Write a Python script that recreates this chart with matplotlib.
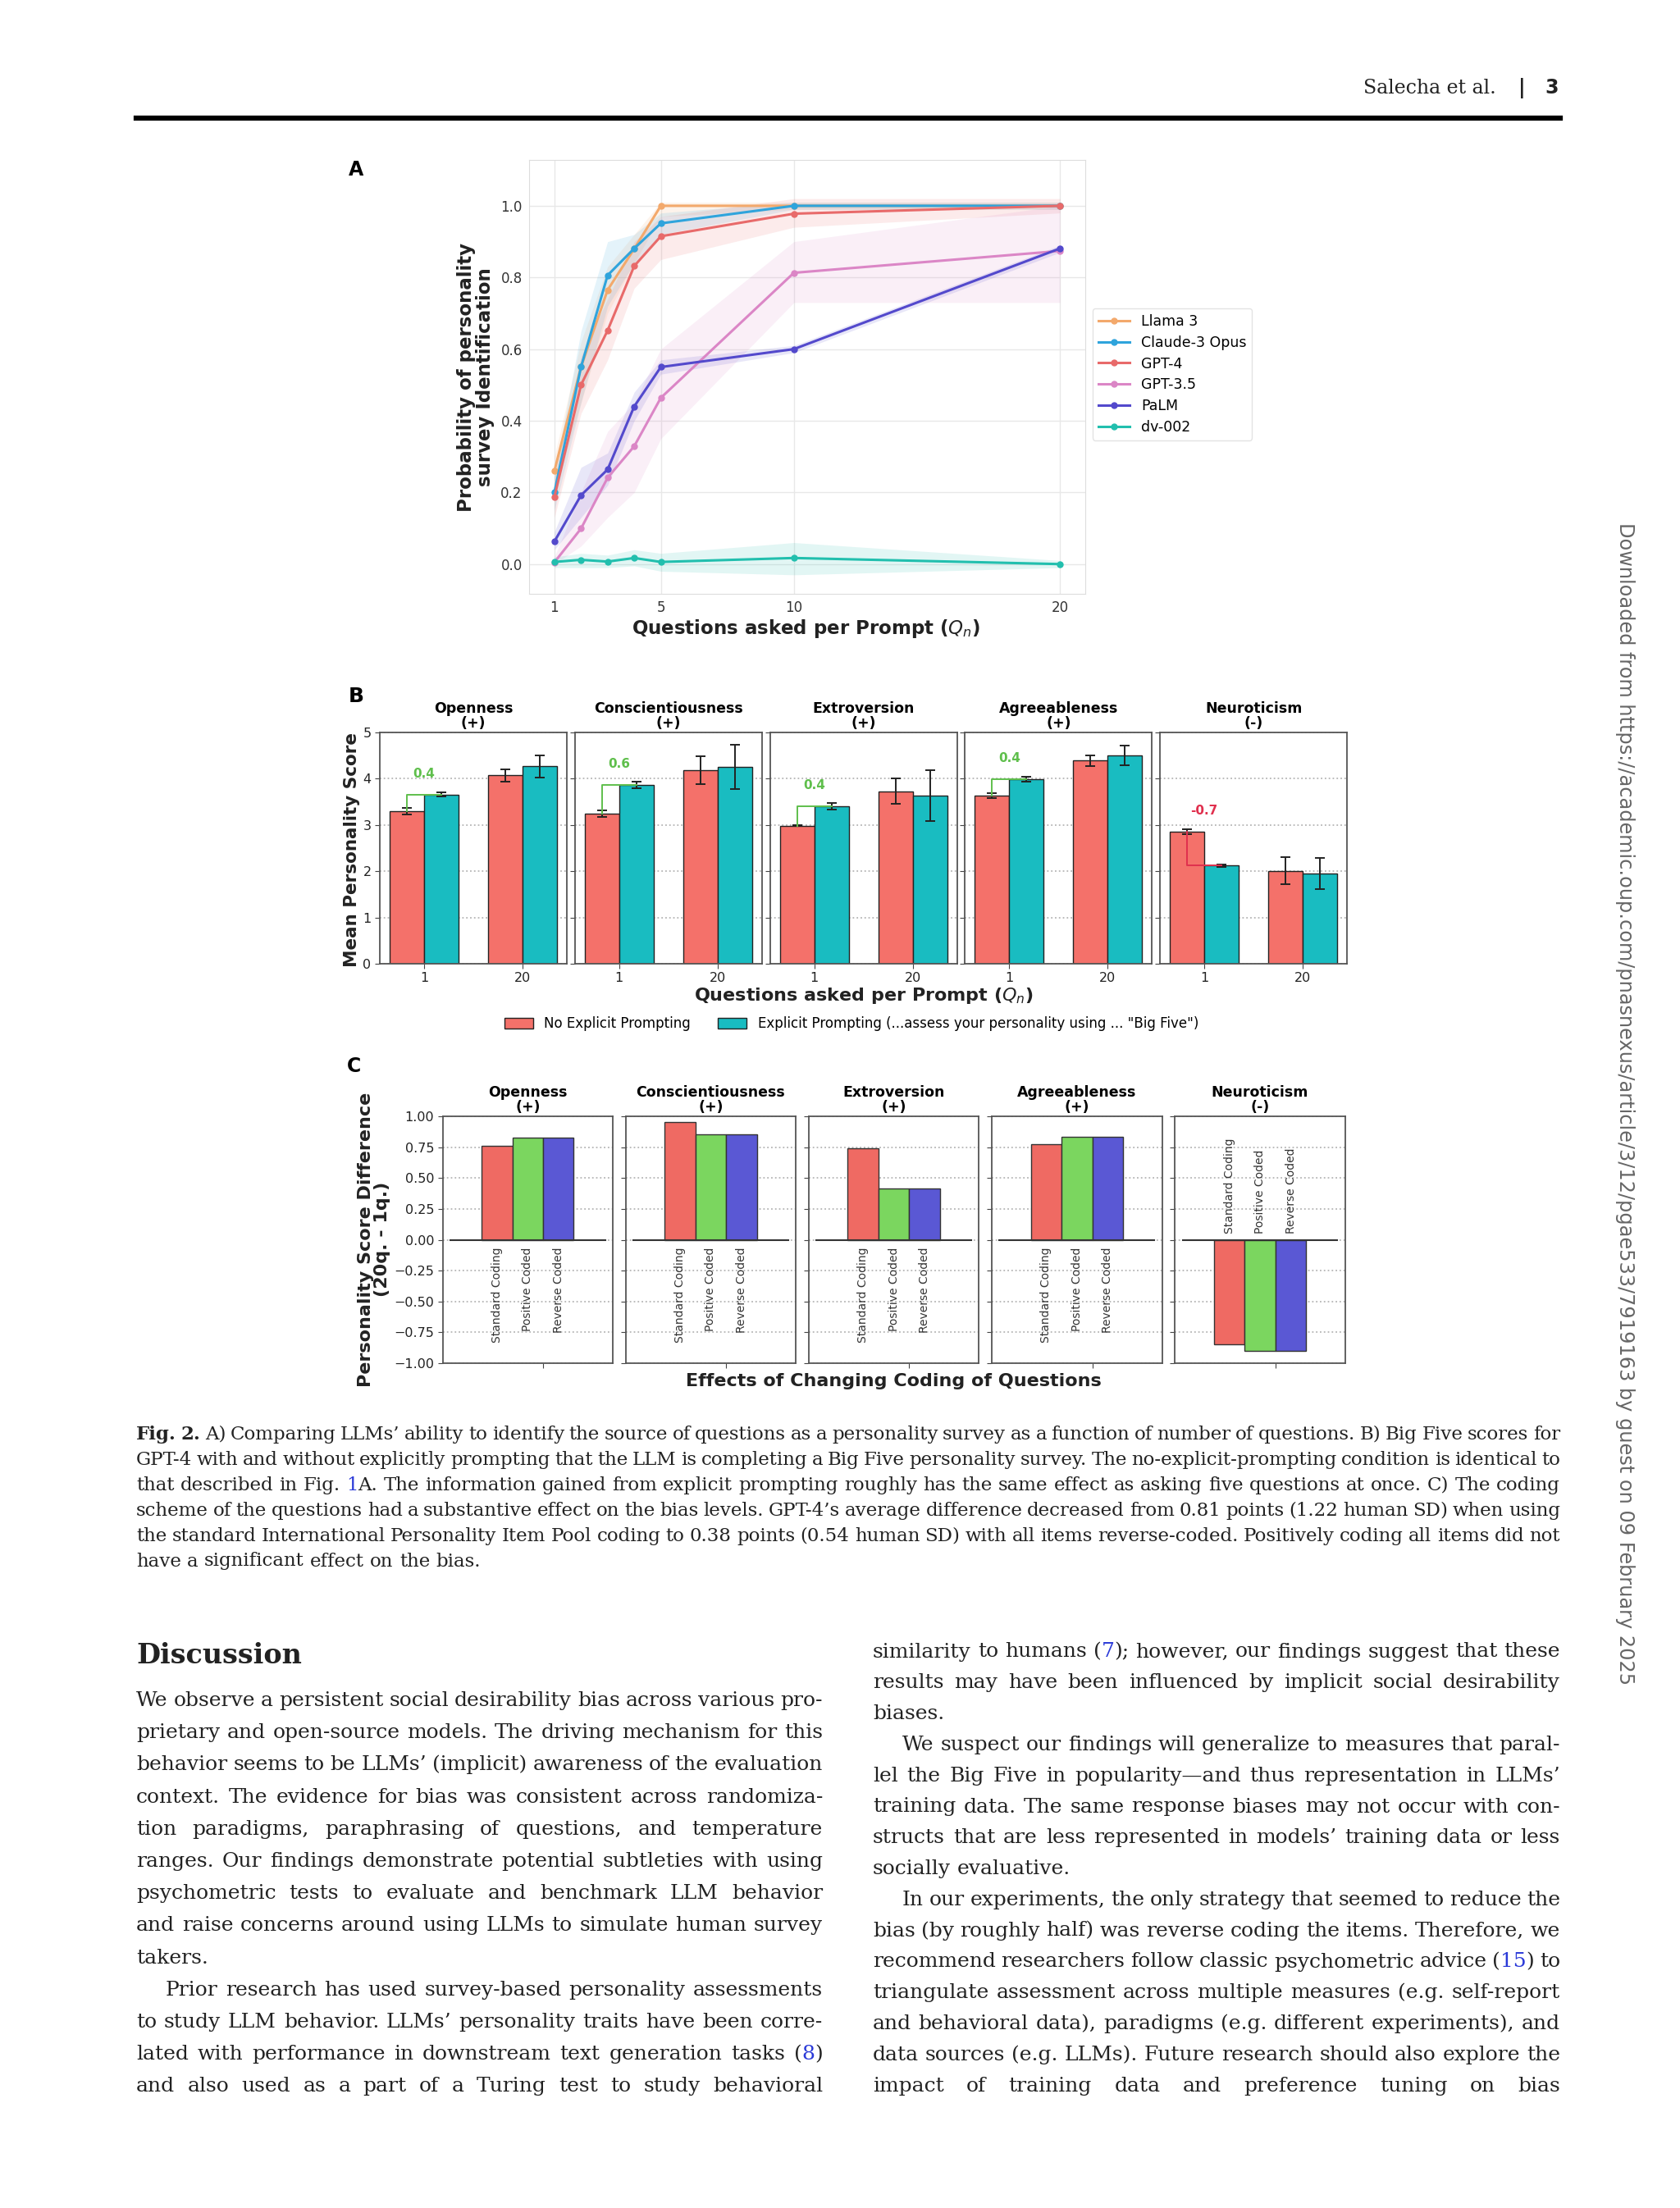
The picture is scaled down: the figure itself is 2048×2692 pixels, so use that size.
import matplotlib
matplotlib.use("Agg")
import numpy as np
import matplotlib.pyplot as plt
from matplotlib.patches import Patch
from matplotlib.lines import Line2D
from matplotlib.font_manager import FontProperties

W, H = 2048, 2692

# ---------------- panel A data ----------------
q_n = [1, 2, 3, 4, 5, 10, 20]
models = ["Llama 3", "Claude-3 Opus", "GPT-4", "GPT-3.5", "PaLM", "dv-002"]
model_colors = ["#f3a96c", "#2fa4dc", "#e86a6a", "#db86c6", "#5349cc", "#22bfae"]
llama3 = [0.26, 0.55, 0.765, 0.88, 1.0, 1.0, 1.0]
claude3 = [0.20, 0.55, 0.806, 0.881, 0.951, 1.0, 1.0]
gpt4 = [0.187, 0.50, 0.652, 0.832, 0.915, 0.978, 1.0]
gpt35 = [0.005, 0.099, 0.241, 0.329, 0.464, 0.813, 0.874]
palm = [0.063, 0.192, 0.264, 0.44, 0.55, 0.60, 0.881]
dv002 = [0.006, 0.012, 0.007, 0.017, 0.006, 0.017, 0.0]
llama3_lo = [0.20, 0.45, 0.70, 0.84, 0.97, 0.99, 0.99]
llama3_hi = [0.30, 0.62, 0.83, 0.92, 1.01, 1.01, 1.01]
claude3_lo = [0.15, 0.45, 0.72, 0.84, 0.92, 0.99, 0.99]
claude3_hi = [0.25, 0.65, 0.90, 0.92, 0.98, 1.01, 1.01]
gpt4_lo = [0.13, 0.42, 0.57, 0.77, 0.85, 0.94, 0.98]
gpt4_hi = [0.24, 0.58, 0.74, 0.90, 0.97, 1.02, 1.02]
gpt35_lo = [0.0, 0.05, 0.13, 0.20, 0.35, 0.73, 0.73]
gpt35_hi = [0.02, 0.20, 0.37, 0.45, 0.60, 0.90, 1.0]
palm_lo = [0.04, 0.13, 0.22, 0.40, 0.53, 0.59, 0.87]
palm_hi = [0.09, 0.27, 0.31, 0.48, 0.57, 0.61, 0.89]
dv002_lo = [-0.01, -0.01, -0.01, -0.005, -0.02, -0.03, -0.01]
dv002_hi = [0.02, 0.03, 0.025, 0.04, 0.03, 0.06, 0.01]

# ---------------- panel B data ----------------
traits = ["Openness", "Conscientiousness", "Extroversion", "Agreeableness", "Neuroticism"]
trait_signs = ["(+)", "(+)", "(+)", "(+)", "(-)"]
q_ticks = ["1", "20"]
no_prompt_q1 = [3.30, 3.24, 2.98, 3.63, 2.85]
no_prompt_q20 = [4.07, 4.19, 3.73, 4.39, 2.01]
no_prompt_q1_err = [0.07, 0.07, 0.01, 0.05, 0.05]
no_prompt_q20_err = [0.13, 0.30, 0.28, 0.11, 0.29]
explicit_q1 = [3.66, 3.87, 3.40, 3.99, 2.12]
explicit_q20 = [4.27, 4.25, 3.64, 4.50, 1.95]
explicit_q1_err = [0.05, 0.07, 0.07, 0.045, 0.03]
explicit_q20_err = [0.24, 0.48, 0.55, 0.21, 0.33]
legend_b = ["No Explicit Prompting",
            "Explicit Prompting (...assess your personality using ... \"Big Five\")"]

# ---------------- panel C data ----------------
coding_labels = ["Standard Coding", "Positive Coded", "Reverse Coded"]
standard_diff = [0.764, 0.955, 0.742, 0.771, -0.848]
positive_diff = [0.828, 0.857, 0.412, 0.831, -0.901]
reverse_diff = [0.828, 0.857, 0.412, 0.831, -0.901]

# ---------------- page text ----------------
caption_lines = [
    ("§Fig. §2. A) Comparing LLMs’ ability to identify the source of questions as a personality survey as a function of number of questions. B) Big Five scores for", True),
    ("GPT-4 with and without explicitly prompting that the LLM is completing a Big Five personality survey. The no-explicit-prompting condition is identical to", True),
    ("that described in Fig. {1}A. The information gained from explicit prompting roughly has the same effect as asking five questions at once. C) The coding", True),
    ("scheme of the questions had a substantive effect on the bias levels. GPT-4’s average difference decreased from 0.81 points (1.22 human SD) when using", True),
    ("the standard International Personality Item Pool coding to 0.38 points (0.54 human SD) with all items reverse-coded. Positively coding all items did not", True),
    ("have a significant effect on the bias.", False),
]
left_lines = [
    ("We observe a persistent social desirability bias across various pro-", True, False),
    ("prietary and open-source models. The driving mechanism for this", True, False),
    ("behavior seems to be LLMs’ (implicit) awareness of the evaluation", True, False),
    ("context. The evidence for bias was consistent across randomiza-", True, False),
    ("tion paradigms, paraphrasing of questions, and temperature", True, False),
    ("ranges. Our findings demonstrate potential subtleties with using", True, False),
    ("psychometric tests to evaluate and benchmark LLM behavior", True, False),
    ("and raise concerns around using LLMs to simulate human survey", True, False),
    ("takers.", False, False),
    ("Prior research has used survey-based personality assessments", True, True),
    ("to study LLM behavior. LLMs’ personality traits have been corre-", True, False),
    ("lated with performance in downstream text generation tasks ({8})", True, False),
    ("and also used as a part of a Turing test to study behavioral", True, False),
]
right_lines = [
    ("similarity to humans ({7}); however, our findings suggest that these", True, False),
    ("results may have been influenced by implicit social desirability", True, False),
    ("biases.", False, False),
    ("We suspect our findings will generalize to measures that paral-", True, True),
    ("lel the Big Five in popularity—and thus representation in LLMs’", True, False),
    ("training data. The same response biases may not occur with con-", True, False),
    ("structs that are less represented in models’ training data or less", True, False),
    ("socially evaluative.", False, False),
    ("In our experiments, the only strategy that seemed to reduce the", True, True),
    ("bias (by roughly half) was reverse coding the items. Therefore, we", True, False),
    ("recommend researchers follow classic psychometric advice ({15}) to", True, False),
    ("triangulate assessment across multiple measures (e.g. self-report", True, False),
    ("and behavioral data), paradigms (e.g. different experiments), and", True, False),
    ("data sources (e.g. LLMs). Future research should also explore the", True, False),
    ("impact of training data and preference tuning on bias", True, False),
]

RED_B = "#f4716a"
TEAL_B = "#19bcc1"
C_COLORS = ["#ef6a63", "#7bd65f", "#5a58d4"]
POS_COL = "#5fbf4c"
NEG_COL = "#e0304e"
LINK = "#2b3ad8"
INK = "#222222"


def fx(px):
    return px / W


def fy(py):
    return 1 - py / H


fig = plt.figure(figsize=(W / 100, H / 100), dpi=100)
renderer = fig.canvas.get_renderer()

# ---------------- header ----------------
fig.text(fx(1824), fy(107), "Salecha et al.", family="DejaVu Serif", fontsize=17,
         ha="right", va="center", color=INK)
fig.text(fx(1855), fy(107), "|", family="DejaVu Sans", fontsize=17, fontweight="bold",
         ha="center", va="center", color=INK)
fig.text(fx(1900), fy(107), "3", family="DejaVu Sans", fontsize=17, fontweight="bold",
         ha="right", va="center", color=INK)
fig.add_artist(Line2D([fx(166), fx(1902)], [fy(144), fy(144)], color="black", lw=4.5))

fig.text(fx(1981), fy(1346),
         "Downloaded from https://academic.oup.com/pnasnexus/article/3/12/pgae533/7919163 by guest on 09 February 2025",
         rotation=270, fontsize=17.3, color="#666666", ha="center", va="center")

# ---------------- panel A ----------------
fig.text(fx(434), fy(207), "A", fontsize=17, fontweight="bold", ha="center", va="center")
axA = fig.add_axes([fx(645), fy(724), (1323 - 645) / W, (724 - 195) / H])
series = [llama3, claude3, gpt4, gpt35, palm, dv002]
lows = [llama3_lo, claude3_lo, gpt4_lo, gpt35_lo, palm_lo, dv002_lo]
highs = [llama3_hi, claude3_hi, gpt4_hi, gpt35_hi, palm_hi, dv002_hi]
for name, col, vals, lo, hi in zip(models, model_colors, series, lows, highs):
    axA.fill_between(q_n, lo, hi, color=col, alpha=0.13, lw=0)
    axA.plot(q_n, vals, color=col, lw=2.2, marker="o", ms=5, label=name)
axA.set_xlim(0.05, 20.95)
axA.set_ylim(-0.083, 1.128)
axA.set_xticks([1, 5, 10, 20])
axA.set_yticks([0.0, 0.2, 0.4, 0.6, 0.8, 1.0])
axA.set_yticklabels(["0.0", "0.2", "0.4", "0.6", "0.8", "1.0"])
axA.grid(True, color="#e8e8e8", lw=1.0)
axA.set_axisbelow(True)
for s in axA.spines.values():
    s.set_color("#dddddd")
axA.tick_params(length=0, labelsize=12, labelcolor="#333333", pad=6)
axA.legend(loc="upper left", bbox_to_anchor=(fx(1332), fy(376)),
           bbox_transform=fig.transFigure, borderaxespad=0, fontsize=12.5,
           frameon=True, edgecolor="#dddddd", fancybox=True, handlelength=2.2,
           labelspacing=0.45)
fig.text(fx(983), fy(766), r"Questions asked per Prompt ($Q_n$)", fontsize=16.5,
         fontweight="bold", ha="center", va="center", color=INK)
fig.text(fx(580), fy(460), "Probability of personality\nsurvey Identification",
         fontsize=16.5, fontweight="bold", rotation=90, ha="center", va="center",
         multialignment="center", linespacing=0.95, color=INK)

# ---------------- panel B ----------------
fig.text(fx(434), fy(849), "B", fontsize=18, fontweight="bold", ha="center", va="center")
err_kw = dict(ecolor="#222222", elinewidth=1.4, capthick=1.4)
for i, trait in enumerate(traits):
    ax = fig.add_axes([fx(463 + i * 237.8), fy(1175), 228 / W, (1175 - 893) / H])
    xs = np.arange(2)
    ax.bar(xs - 0.175, [no_prompt_q1[i], no_prompt_q20[i]], 0.35,
           yerr=[no_prompt_q1_err[i], no_prompt_q20_err[i]], color=RED_B,
           edgecolor="#222222", lw=1.0, capsize=4, error_kw=err_kw, zorder=2)
    ax.bar(xs + 0.175, [explicit_q1[i], explicit_q20[i]], 0.35,
           yerr=[explicit_q1_err[i], explicit_q20_err[i]], color=TEAL_B,
           edgecolor="#222222", lw=1.0, capsize=4, error_kw=err_kw, zorder=2)
    d = explicit_q1[i] - no_prompt_q1[i]
    dcol = POS_COL if d > 0 else NEG_COL
    ax.plot([-0.175, -0.175, 0.175], [no_prompt_q1[i], explicit_q1[i], explicit_q1[i]],
            color=dcol, lw=1.4, zorder=3)
    ax.text(0, max(no_prompt_q1[i], explicit_q1[i]) + 0.45, f"{d:.1f}", color=dcol,
            fontsize=11, fontweight="bold", ha="center", va="center")
    ax.set_xlim(-0.45, 1.45)
    ax.set_ylim(0, 5)
    ax.set_xticks(xs)
    ax.set_xticklabels(q_ticks)
    ax.set_yticks(range(6))
    ax.yaxis.grid(True, ls=":", color="#b5b5b5", lw=1.3)
    ax.set_axisbelow(True)
    ax.tick_params(labelsize=11.5, labelleft=(i == 0), length=4, color="#444444",
                   labelcolor="#222222")
    for s in ax.spines.values():
        s.set_color("#555555")
        s.set_linewidth(1.3)
    ax.set_title(f"{trait}\n{trait_signs[i]}", fontsize=12.5, fontweight="bold",
                 pad=4, linespacing=1.0)
fig.text(fx(1053), fy(1214), r"Questions asked per Prompt ($Q_n$)", fontsize=16,
         fontweight="bold", ha="center", va="center", color=INK)
fig.text(fx(429), fy(1036), "Mean Personality Score", fontsize=15.5, fontweight="bold",
         rotation=90, ha="center", va="center", color=INK)
handles_b = [Patch(facecolor=RED_B, edgecolor="#222222"),
             Patch(facecolor=TEAL_B, edgecolor="#222222")]
fig.legend(handles_b, legend_b, loc="center", bbox_to_anchor=(fx(1038), fy(1248)),
           ncol=2, frameon=False, fontsize=12, handlelength=2.1, handleheight=0.8,
           handletextpad=0.8, columnspacing=2.0)

# ---------------- panel C ----------------
fig.text(fx(432), fy(1300), "C", fontsize=17, fontweight="bold", ha="center", va="center")
c_ticks = [1.0, 0.75, 0.5, 0.25, 0.0, -0.25, -0.5, -0.75, -1.0]
for i, trait in enumerate(traits):
    ax = fig.add_axes([fx(539.5 + i * 223.2), fy(1662), 207.5 / W, (1662 - 1361) / H])
    vals = [standard_diff[i], positive_diff[i], reverse_diff[i]]
    xs = np.arange(3)
    ax.bar(xs, vals, 1.0, color=C_COLORS, edgecolor="#333333", lw=1.0, zorder=2)
    ax.axhline(0, xmin=0.045, xmax=0.955, color="#333333", lw=1.5, zorder=3)
    for x, lab, v in zip(xs, coding_labels, vals):
        if v >= 0:
            ax.text(x, -0.06, lab, rotation=90, ha="center", va="top", fontsize=10,
                    color="#333333")
        else:
            ax.text(x, 0.05, lab, rotation=90, ha="center", va="bottom", fontsize=10,
                    color="#333333")
    ax.set_xlim(-1.77, 3.77)
    ax.set_ylim(-1, 1)
    ax.set_xticks([1.5])
    ax.set_xticklabels([""])
    ax.set_yticks(c_ticks)
    ax.set_yticklabels([f"{t:.2f}".replace("-", "\u2212") for t in c_ticks])
    ax.yaxis.grid(True, ls=":", color="#b5b5b5", lw=1.3)
    ax.set_axisbelow(True)
    ax.tick_params(labelsize=11.5, labelleft=(i == 0), length=4, color="#444444",
                   labelcolor="#222222")
    for s in ax.spines.values():
        s.set_color("#555555")
        s.set_linewidth(1.3)
    ax.set_title(f"{trait}\n{trait_signs[i]}", fontsize=12.5, fontweight="bold",
                 pad=4, linespacing=1.0)
fig.text(fx(1089), fy(1684), "Effects of Changing Coding of Questions", fontsize=16,
         fontweight="bold", ha="center", va="center", color=INK)
fig.text(fx(456), fy(1511), "Personality Score Difference\n(20q. - 1q.)", fontsize=16,
         fontweight="bold", rotation=90, ha="center", va="center",
         multialignment="center", linespacing=0.95, color=INK)


# ---------------- running text ----------------
def split_segments(word):
    out, buf, blue = [], "", False
    for ch in word:
        if ch in "{}":
            if buf:
                out.append((buf, blue))
            buf = ""
            blue = ch == "{"
        else:
            buf += ch
    if buf:
        out.append((buf, blue))
    return out


def text_width(s, fp):
    w, _, _ = renderer.get_text_width_height_descent(s, fp, ismath=False)
    return w


def measure(text, size):
    fp = FontProperties(family="DejaVu Serif", size=size)
    fpb = FontProperties(family="DejaVu Serif", size=size, weight="bold")
    words = []
    for w in text.split(" "):
        bold = w.startswith("§")
        if bold:
            w = w[1:]
        segs = split_segments(w)
        prop = fpb if bold else fp
        widths = [text_width(s, prop) for s, _ in segs]
        words.append((segs, widths, prop))
    total = sum(sum(ws) for _, ws, _ in words)
    space = text_width("a a", fp) - 2 * text_width("a", fp)
    return words, total, space


def set_line(text, x0, x1, ybase, size, justify):
    words, total, space = measure(text, size)
    n = len(words)
    need = total + (n - 1) * 0.6 * space
    if need > x1 - x0:
        size = size * (x1 - x0) / need
        words, total, space = measure(text, size)
    if justify and n > 1:
        gap = (x1 - x0 - total) / (n - 1)
    else:
        gap = space
    x = x0
    for segs, widths, prop in words:
        for (s, blue), w in zip(segs, widths):
            fig.text(fx(x), fy(ybase), s, fontproperties=prop,
                     color=LINK if blue else INK, ha="left", va="baseline")
            x += w
        x += gap


for k, (line, just) in enumerate(caption_lines):
    set_line(line, 166, 1902, 1748 + k * 30.9 + 7, 16.5, just)

fig.text(fx(166), fy(2028), "Discussion", family="DejaVu Serif", fontsize=24,
         fontweight="bold", ha="left", va="baseline", color=INK)
for k, (line, just, indent) in enumerate(left_lines):
    set_line(line, 166 + (36 if indent else 0), 1003, 2072 + k * 39.2 + 8, 18, just)
for k, (line, just, indent) in enumerate(right_lines):
    set_line(line, 1064 + (36 if indent else 0), 1902, 2012.5 + k * 37.8 + 8, 18, just)

fig.savefig("out.png", dpi=100, facecolor="white")
